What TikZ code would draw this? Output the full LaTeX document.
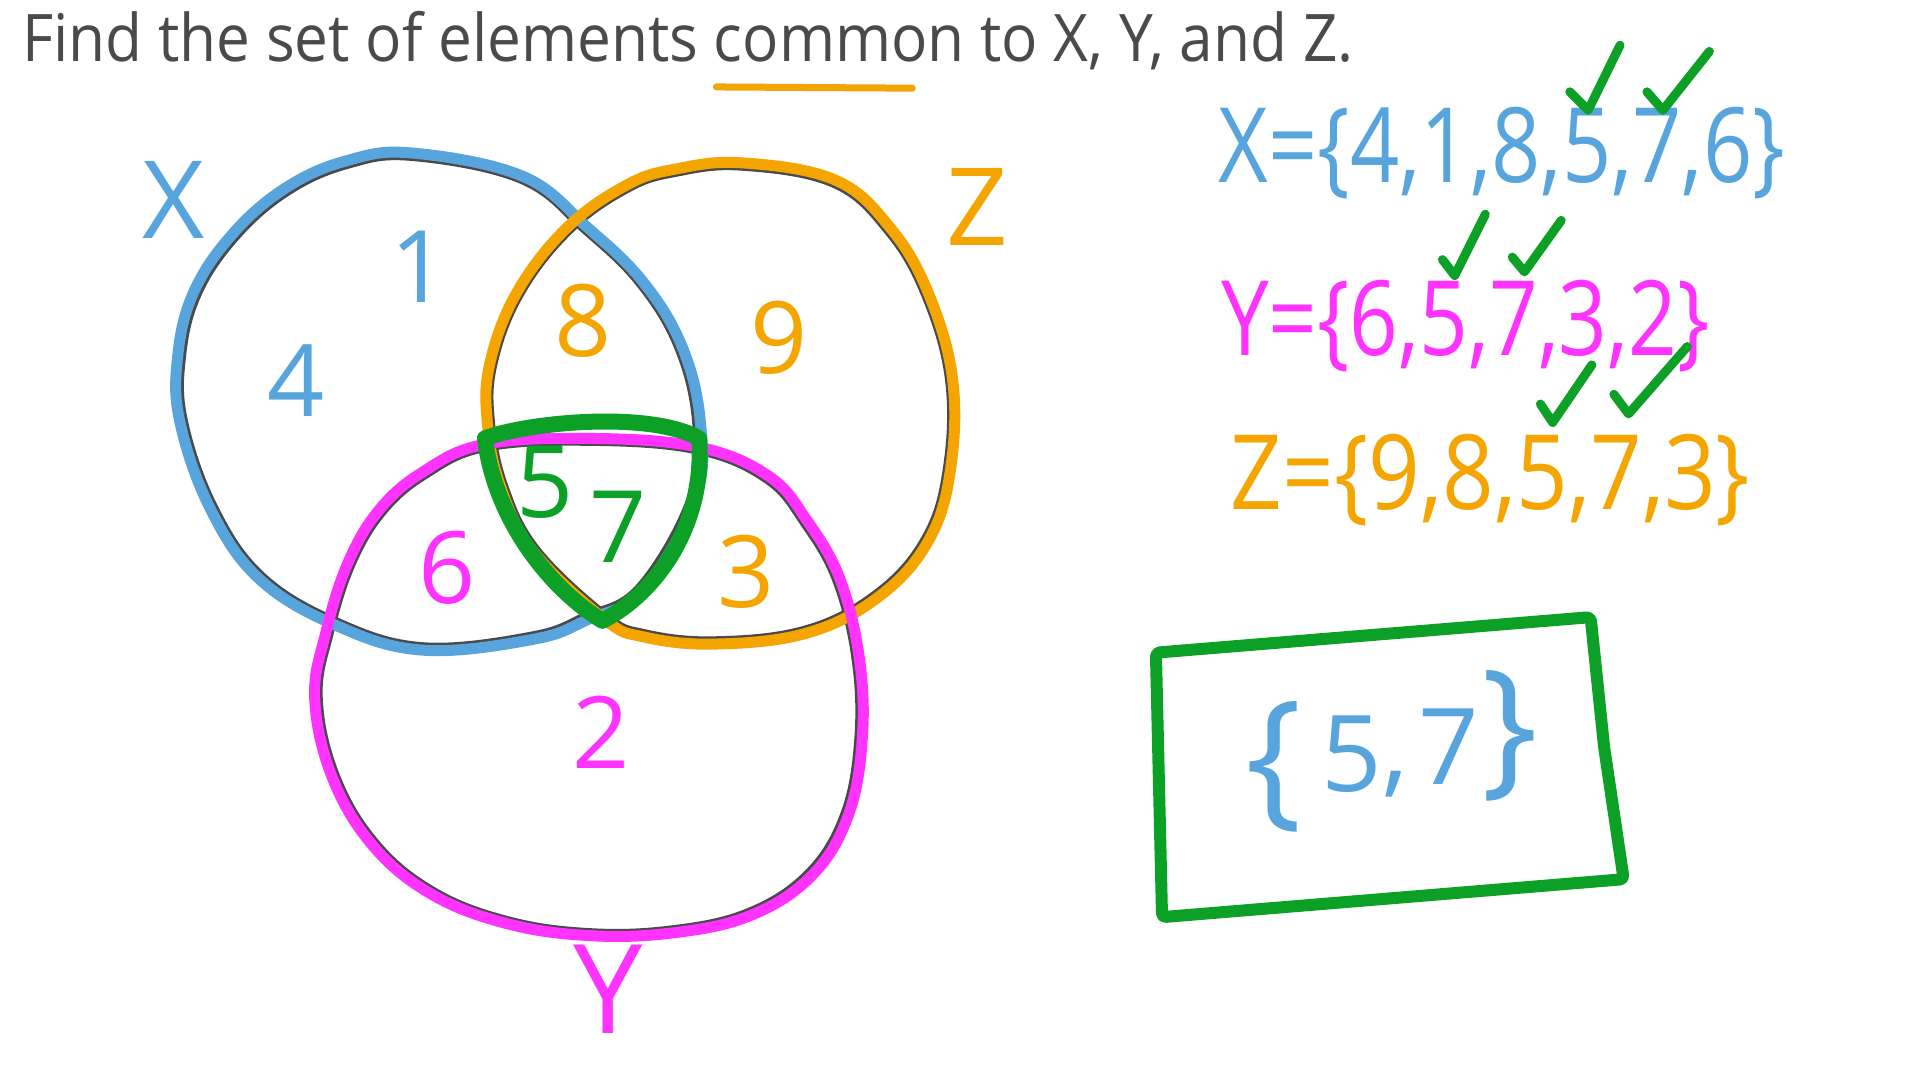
\documentclass[tikz,border=0pt]{standalone}
\usepackage{fontspec}
\setmainfont{Open Sans}
\usepackage{graphicx}
\definecolor{vblue}{RGB}{88,165,222}
\definecolor{vorange}{RGB}{245,165,0}
\definecolor{vmag}{RGB}{255,51,255}
\definecolor{vgreen}{RGB}{12,160,38}
\definecolor{vgray}{RGB}{74,74,74}
\newdimen\sk \sk=1.2245pt
\begin{document}
\begin{tikzpicture}[x=1.2245pt, y=-1.2245pt, line cap=round, line join=round,
  pen/.style={line width=11pt},
  shadowpen/.style={line width=5pt, draw=vgray},
  num/.style={font=\fontsize{100}{100}\selectfont, inner sep=0pt},
  setlbl/.style={font=\fontsize{108}{108}\selectfont, inner sep=0pt},
  eqn/.style={font=\fontsize{104}{104}\selectfont, inner sep=0pt, anchor=west},
  brace/.style={font=\fontsize{150}{150}\selectfont, inner sep=0pt, text=vblue},
  ansnum/.style={font=\fontsize{106}{106}\selectfont, inner sep=0pt, text=vblue},
  check/.style={draw=vgreen, line width=9pt}]
\useasboundingbox[fill=white] (0,0) rectangle (1568,882);

% title
\node[anchor=base west, inner sep=0pt, text=vgray] (title) at (18,50)
  {\resizebox{1087\sk}{41\sk}{Find the set of elements common to X, Y, and Z.}};
\coordinate (ul1) at (585,71);
\coordinate (ul2) at (745,72);
\draw[vorange, line width=7pt] (ul1) -- (ul2);

\def\shapeX{(337,125) (427,144) (480,186) (525,230) (557,283) (572,345) (568,407) (525,482)
  (480,506) (436,522) (346,531) (275,511) (212,473) (172,416) (147,345) (145,292) (158,239)
  (190,191) (234,153) (284,131)}
\def\shapeZ{(606,133) (682,147) (727,186) (758,239) (778,310) (776,385) (758,442) (718,487)
  (659,517) (583,526) (525,520) (494,506) (436,451) (409,398) (398,345) (400,297) (422,239)
  (463,186) (512,151) (552,138)}
\def\shapeY{(395,363) (480,358) (570,365) (628,389) (659,425) (686,473) (702,539) (704,606)
  (692,668) (662,716) (612,748) (548,762) (480,764) (413,754) (352,730) (304,690) (271,634)
  (257,570) (266,517) (284,460) (310,416) (346,385)}

% shadows
\draw[shadowpen, scale around={0.978:(358,330)}] plot[smooth cycle, tension=0.65] coordinates {\shapeX};
\draw[shadowpen, scale around={0.978:(588,330)}] plot[smooth cycle, tension=0.65] coordinates {\shapeZ};
\draw[shadowpen, scale around={0.98:(483,560)}] plot[smooth cycle, tension=0.65] coordinates {\shapeY};

% sets
\draw[pen, vblue] plot[smooth cycle, tension=0.65] coordinates {\shapeX};
\draw[pen, vorange] plot[smooth cycle, tension=0.65] coordinates {\shapeZ};
\draw[pen, vmag] plot[smooth cycle, tension=0.65] coordinates {\shapeY};

% common region outline (green shield)
\draw[vgreen, line width=16pt] (396,358) .. controls (430,345) and (530,335) .. (571,358)
  .. controls (576,430) and (535,485) .. (492,507)
  .. controls (455,485) and (405,430) .. cycle;

% set labels
\node[setlbl, text=vblue] (lx) at (142,163) {X};
\node[setlbl, text=vorange] (lz) at (798,169) {Z};
\node[setlbl, text=vmag, font=\fontsize{124}{124}\selectfont] (ly) at (497,808) {Y};

% elements
\node[num, text=vblue] (e1) at (342,218) {1};
\node[num, text=vblue] (e4) at (242,311) {4};
\node[num, text=vorange] (e8) at (476,262) {8};
\node[num, text=vorange] (e9) at (636,276) {9};
\node[num, text=vgreen] (e5) at (445,394) {5};
\node[num, text=vgreen] (e7) at (505,430) {7};
\node[num, text=vmag] (e6) at (365,464) {6};
\node[num, text=vorange] (e3) at (609,467) {3};
\node[num, text=vmag] (e2) at (491,598) {2};

% set listings
\node[eqn, text=vblue] (eqx) at (995,125) {\scalebox{0.83}[1]{X=\{4,1,8,5,7,6\}}};
\node[eqn, text=vmag] (eqy) at (997,266) {\scalebox{0.82}[1]{Y=\{6,5,7,3,2\}}};
\node[eqn, text=vorange] (eqz) at (1005,392) {\scalebox{0.87}[1]{Z=\{9,8,5,7,3\}}};

% check marks
\draw[check] (1282,75) -- (1297,90) -- (1323,37);
\draw[check] (1345,75) -- (1358,90) -- (1396,42);
\draw[check] (1178,212) -- (1188,225) -- (1213,175);
\draw[check] (1235,210) -- (1245,222) -- (1275,180);
\draw[check] (1258,330) -- (1268,345) -- (1300,298);
\draw[check] (1318,322) -- (1330,338) -- (1378,283);

% answer box
\draw[vgreen, line width=12pt, rounded corners=4pt] (944,533) -- (1299,504) -- (1310,610) -- (1326,718) -- (949,749) -- cycle;
\node[brace] (lb) at (1040,626) {\{};
\node[ansnum] (a5) at (1104,616) {5};
\node[ansnum] (acomma) at (1140,640) {,};
\node[ansnum] (a7) at (1183,610) {7};
\node[brace] (rb) at (1233,601) {\}};
\end{tikzpicture}
\end{document}
